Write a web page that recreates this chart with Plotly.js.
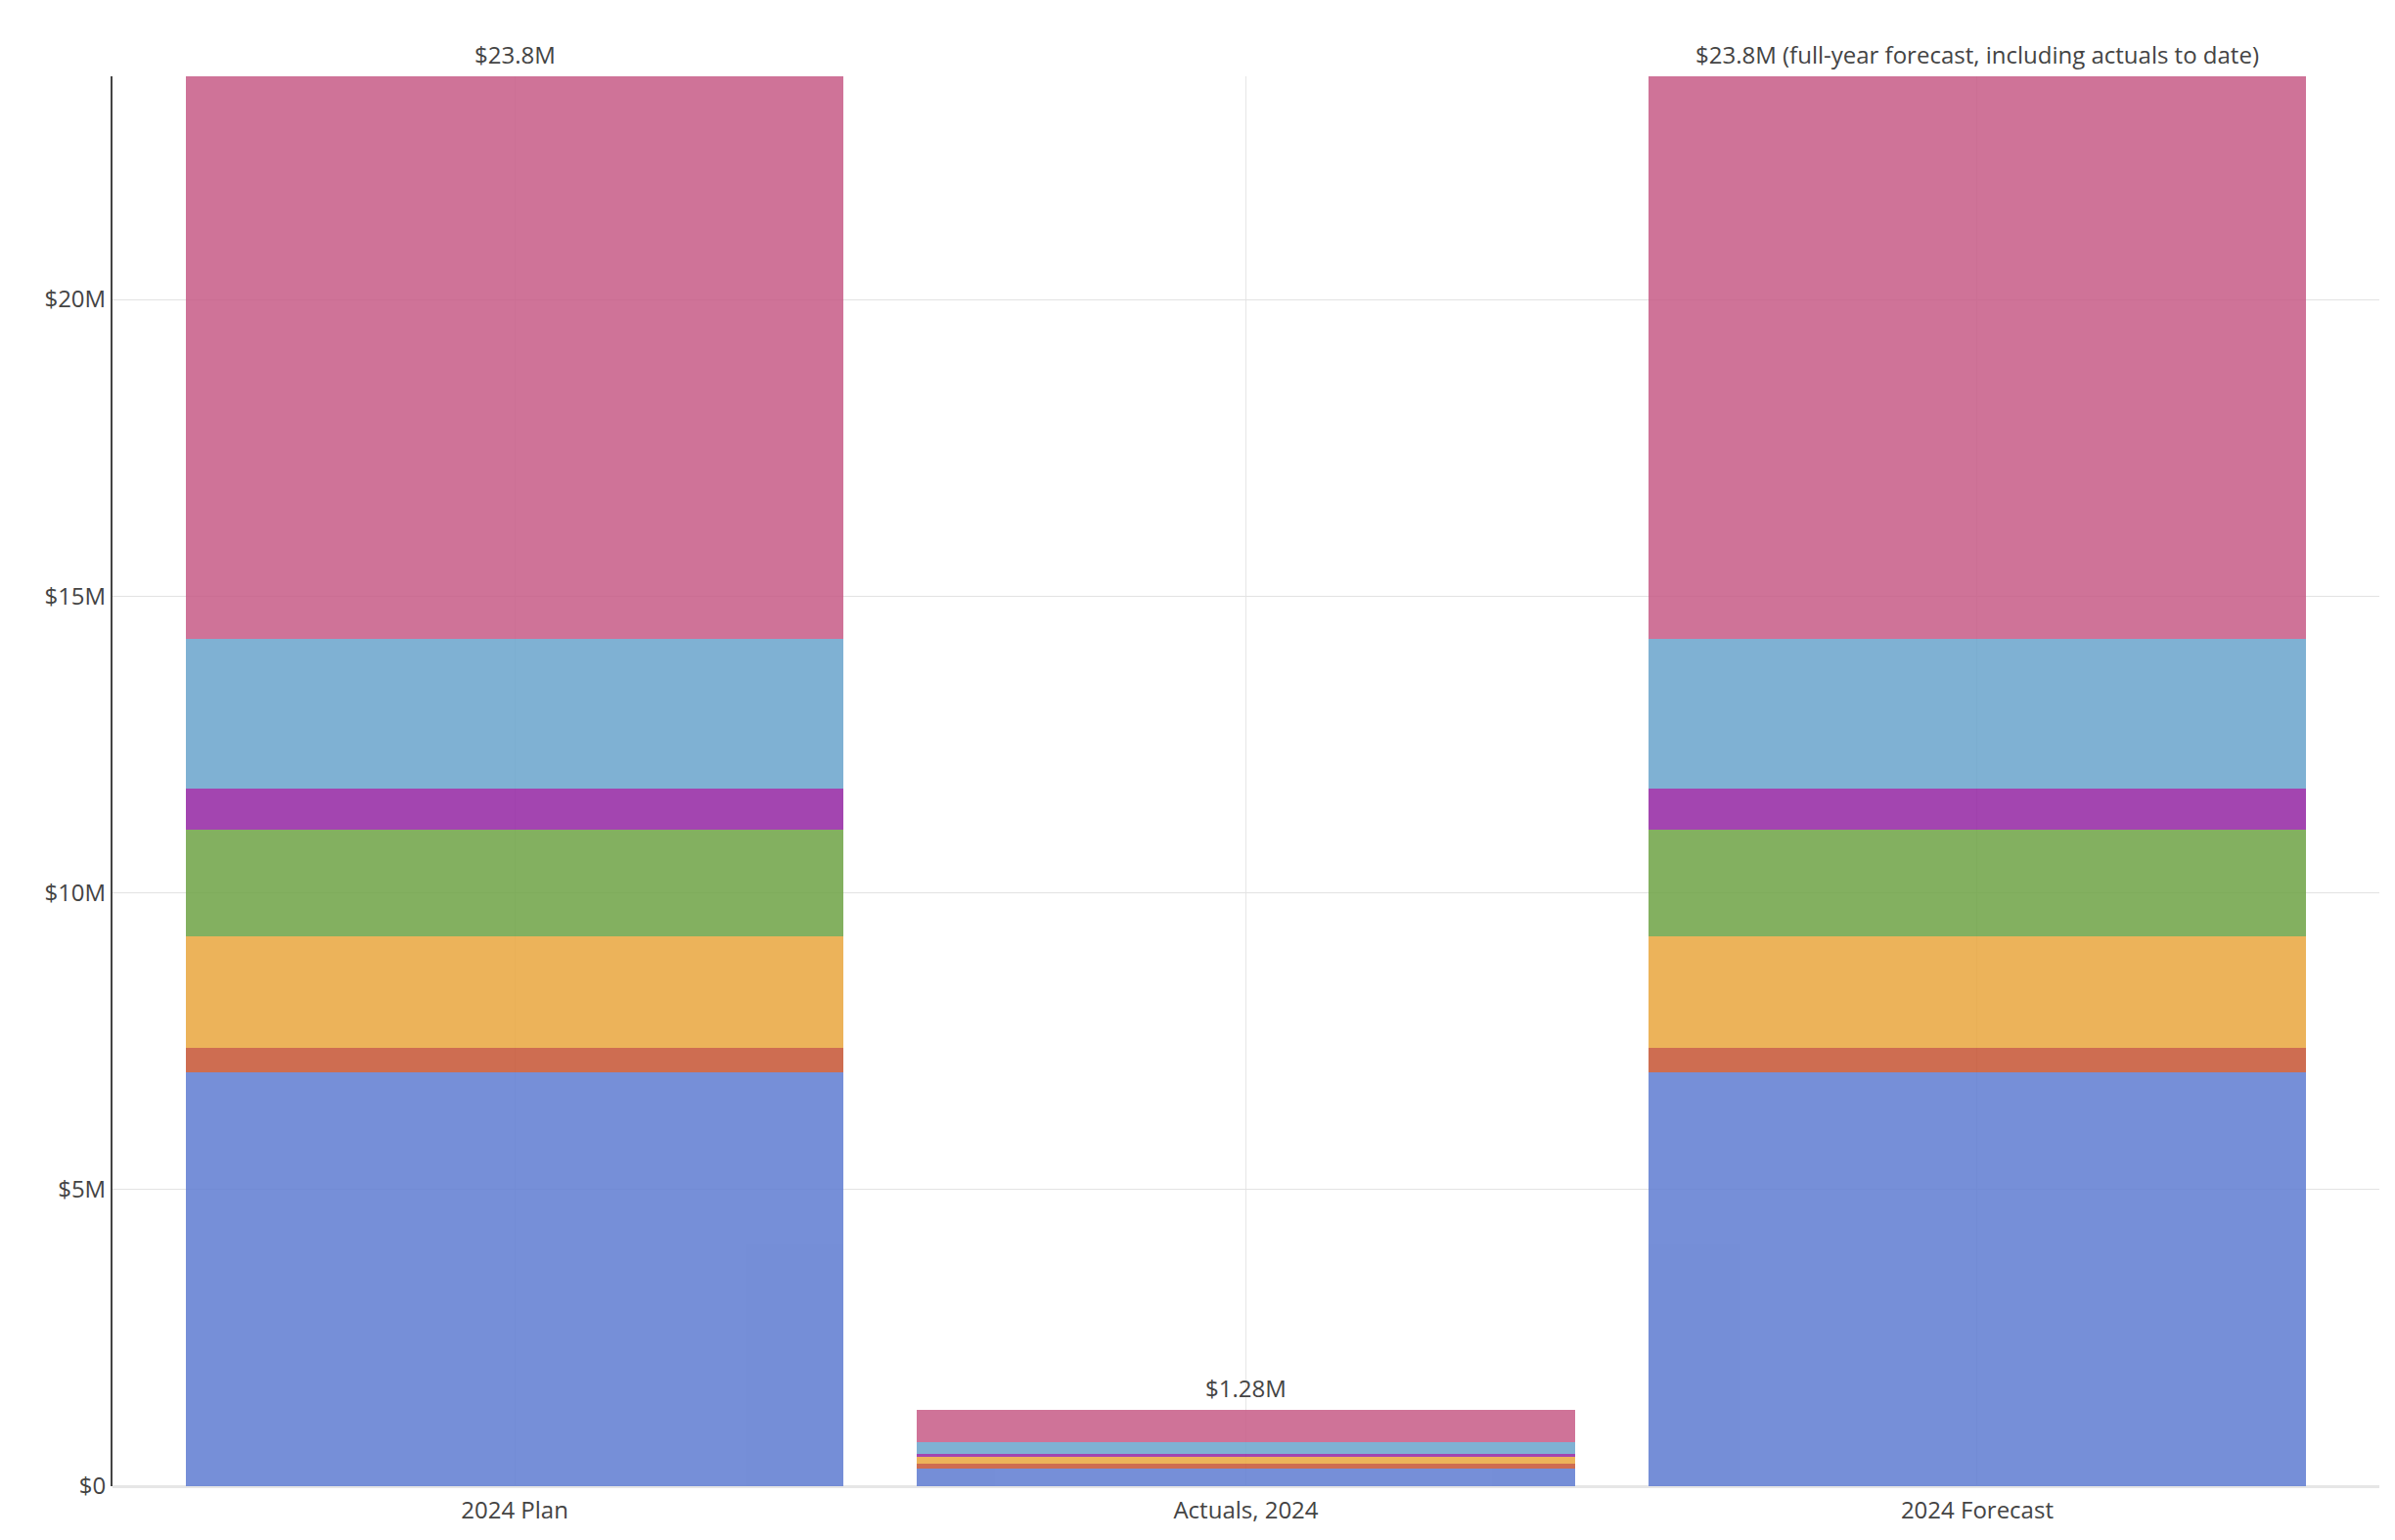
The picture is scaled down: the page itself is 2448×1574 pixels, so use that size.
<!DOCTYPE html>
<html>
<head>
<meta charset="utf-8">
<script src="https://cdn.plot.ly/plotly-3.0.1.min.js"></script>
<style>html,body{margin:0;padding:0;background:#fff;}#chart{width:2448px;height:1574px;}</style>
</head>
<body>
<div id="chart"></div>
<script>
// Categories (x axis)
const categories = ["2024 Plan", "Actuals, 2024", "2024 Forecast"];

// Stacked series values (millions of dollars), bottom to top
const salaries    = [6.98, 0.305, 6.98];
const benefits    = [0.40, 0.071, 0.40];
const contractors = [1.88, 0.115, 1.88];
const software    = [1.80, 0.010, 1.80];
const travel      = [0.70, 0.045, 0.70];
const facilities  = [2.52, 0.193, 2.52];
const other       = [9.48, 0.549, 9.48];

const seriesNames = ["Salaries", "Benefits", "Contractors", "Software", "Travel", "Facilities", "Other"];
const seriesValues = [salaries, benefits, contractors, software, travel, facilities, other];
const seriesColors = ["#5e7bd1", "#c55433", "#e9a63d", "#6da244", "#9325a2", "#69a3cb", "#c75a86"];

// Labels above bars
const totalLabels = ["$23.8M", "$1.28M", "$23.8M (full-year forecast, including actuals to date)"];

// Y tick values / labels
const yTickVals = [0, 5, 10, 15, 20];
const yTickText = ["$0", "$5M", "$10M", "$15M", "$20M"];

const traces = seriesNames.map((name, i) => ({
  type: "bar",
  name: name,
  x: categories,
  y: seriesValues[i],
  marker: { color: seriesColors[i], line: { width: 0 } },
  opacity: 0.85,
  hoverinfo: "x+y+name"
}));

const totals = categories.map((c, j) => seriesValues.reduce((s, arr) => s + arr[j], 0));

const annotations = categories.map((c, j) => ({
  x: c, y: totals[j], xref: "x", yref: "y",
  text: totalLabels[j], showarrow: false,
  yanchor: "bottom", yshift: 4,
  font: { size: 24, color: "#444" }
}));

const layout = {
  width: 2448, height: 1574,
  barmode: "stack",
  bargap: 0.1,
  showlegend: false,
  paper_bgcolor: "#fff",
  plot_bgcolor: "#fff",
  margin: { l: 115, r: 16, t: 78, b: 55 },
  font: { size: 24, color: "#444" },
  xaxis: {
    type: "category",
    range: [-0.55, 2.55],
    showgrid: true, gridcolor: "#e6e6e6",
    showline: false, ticks: "",
    ticklabelstandoff: 8,
    tickfont: { size: 24 }
  },
  yaxis: {
    range: [0, totals[0]],
    tickvals: yTickVals, ticktext: yTickText,
    showgrid: true, gridcolor: "#e3e3e3",
    zeroline: true, zerolinecolor: "#e6e6e6", zerolinewidth: 3,
    showline: true, linecolor: "#444", linewidth: 2,
    ticks: "", tickfont: { size: 24 }
  },
  annotations: annotations
};

Plotly.newPlot("chart", traces, layout, { displayModeBar: false, staticPlot: true });
</script>
</body>
</html>
